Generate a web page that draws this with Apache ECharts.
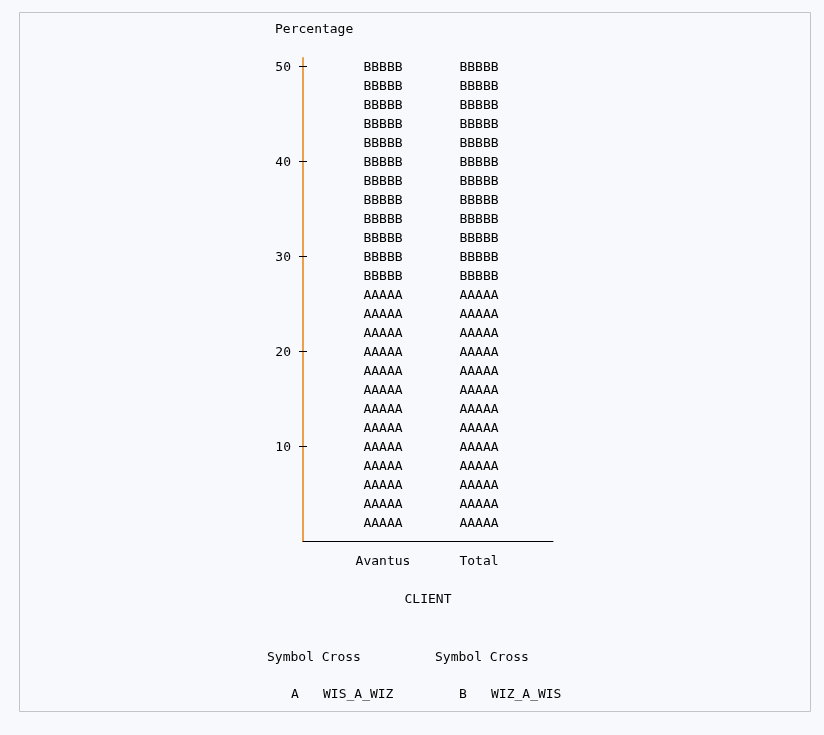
<!DOCTYPE html>
<html>
<head>
<meta charset="utf-8">
<script src="https://cdn.jsdelivr.net/npm/echarts@6/dist/echarts.min.js"></script>
<style>
html,body{margin:0;padding:0;background:#f8f9fd;}
#c{width:824px;height:735px;}
</style>
</head>
<body>
<div id="c"></div>
<script>
// ---- data ----
var categories = ['Avantus', 'Total'];
var valuesA = [26, 26];   // WIS_A_WIZ
var valuesB = [24, 24];   // WIZ_A_WIS
var seriesNames = ['WIS_A_WIZ', 'WIZ_A_WIS'];
var seriesSymbols = ['A', 'B'];
var yTicks = [10, 20, 30, 40, 50];
var rowStep = 2;

var FONT = '13px "DejaVu Sans Mono", "Liberation Mono", monospace';
var FAM = '"DejaVu Sans Mono", "Liberation Mono", monospace';
var INK = '#000000';
var DY = 2;

var dataA = categories.map(function (c, i) { return [i, 0, valuesA[i]]; });
var dataB = categories.map(function (c, i) { return [i, valuesA[i], valuesA[i] + valuesB[i]]; });

function renderRows(params, api) {
  var idx = api.value(0), start = api.value(1), end = api.value(2);
  var ch = seriesSymbols[params.seriesIndex];
  var label = ch + ch + ch + ch + ch;
  var children = [];
  for (var v = start + rowStep; v <= end + 1e-6; v += rowStep) {
    var p = api.coord([idx, v]);
    children.push({
      type: 'text', x: p[0], y: p[1] + DY,
      style: { text: label, font: FONT, fill: INK, align: 'center', verticalAlign: 'middle' }
    });
  }
  return { type: 'group', children: children };
}

var chart = echarts.init(document.getElementById('c'));
var graphics = [
  { type: 'rect', shape: { x: 19.5, y: 12.5, width: 791, height: 699 },
    style: { fill: 'none', stroke: '#c4c4c6', lineWidth: 1 }, silent: true },
  { type: 'text', x: 275, y: 28 + DY, style: { text: 'Percentage', font: FONT, fill: INK, verticalAlign: 'middle' } }
];
var legendX = [267, 435];
seriesNames.forEach(function (n, i) {
  graphics.push({ type: 'text', x: legendX[i], y: 656 + DY, style: { text: 'Symbol Cross', font: FONT, fill: INK, verticalAlign: 'middle' } });
  graphics.push({ type: 'text', x: legendX[i] + 24, y: 693 + DY, style: { text: seriesSymbols[i], font: FONT, fill: INK, verticalAlign: 'middle' } });
  graphics.push({ type: 'text', x: legendX[i] + 56, y: 693 + DY, style: { text: n, font: FONT, fill: INK, verticalAlign: 'middle' } });
});

chart.setOption({
  backgroundColor: '#f8f9fd',
  animation: false,
  grid: { left: 303, right: 271, top: 58, bottom: 194, containLabel: false },
  xAxis: {
    type: 'value', min: -0.8333, max: 1.7708,
    splitLine: { show: false },
    axisLine: { show: true, onZero: false, lineStyle: { color: '#000', width: 1 } },
    axisTick: { show: false },
    axisLabel: {
      customValues: categories.map(function (c, i) { return i; }),
      formatter: function (v) { return categories[Math.round(v)] || ''; },
      color: INK, fontFamily: FAM, fontSize: 13, margin: 14
    },
    name: 'CLIENT', nameLocation: 'middle', nameGap: 52,
    nameTextStyle: { color: INK, fontFamily: FAM, fontSize: 13 }
  },
  yAxis: [{
    type: 'value', min: 0, max: 50.842,
    splitLine: { show: false },
    axisLine: { show: true, onZero: false, lineStyle: { color: '#ee9f4c', width: 2 } },
    axisTick: { show: true, customValues: yTicks, length: 4, lineStyle: { color: '#000' } },
    axisLabel: {
      customValues: yTicks, margin: 12,
      formatter: function (v) { return '{p|' + v + '}'; },
      rich: { p: { color: INK, fontFamily: FAM, fontSize: 13, padding: [4, 0, 0, 0] } }
    }
  }, {
    type: 'value', min: 0, max: 50.842, position: 'left',
    splitLine: { show: false },
    axisLine: { show: false, onZero: false },
    axisTick: { show: true, inside: true, customValues: yTicks, length: 4, lineStyle: { color: '#000' } },
    axisLabel: { show: false }
  }],
  series: [
    { name: seriesNames[0], type: 'custom', renderItem: renderRows, data: dataA, encode: { x: 0, y: [1, 2] }, clip: false },
    { name: seriesNames[1], type: 'custom', renderItem: renderRows, data: dataB, encode: { x: 0, y: [1, 2] }, clip: false }
  ],
  graphic: graphics
});
</script>
</body>
</html>
